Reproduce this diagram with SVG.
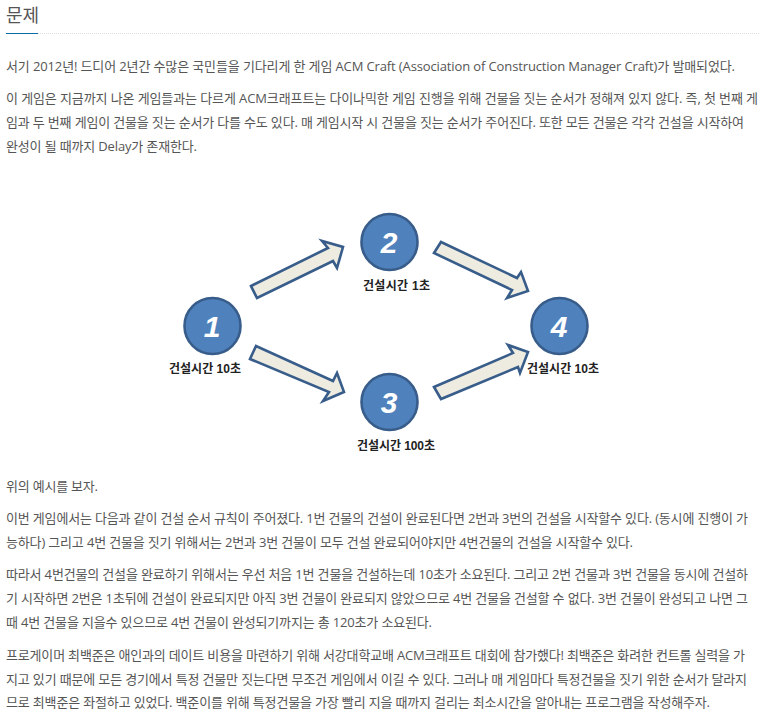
<svg xmlns="http://www.w3.org/2000/svg" width="760" height="718" viewBox="0 0 760 718">
<style>
text{font-family:"Open Sans","Noto Sans CJK KR",sans-serif}
.t{font-size:13px;fill:#555}
.h{font-size:18px;fill:#555}
.l{font-size:12px;font-weight:700;fill:#222;font-family:"Liberation Sans","Noto Sans CJK KR",sans-serif}
.c{fill:#4f81bd;stroke:#385d8a;stroke-width:2.6}
.a{fill:#eeece1;stroke:#385d8a;stroke-width:2.6}
.n{font-size:30px;font-weight:700;fill:#fff;font-style:italic;font-family:"Liberation Sans",sans-serif;text-anchor:middle}
</style>
<rect width="760" height="718" fill="#fff"/>
<text class="h" x="6" y="22">문제</text>
<line x1="38" y1="33.5" x2="760" y2="33.5" stroke="#ddd" stroke-dasharray="1 1"/>
<rect x="6" y="33" width="32" height="1" fill="#0d6ca8"/>
<g id="text1">
<text class="t" x="6" y="71" textLength="729">서기 2012년! 드디어 2년간 수많은 국민들을 기다리게 한 게임 ACM Craft (Association of Construction Manager Craft)가 발매되었다.</text>
<text class="t" x="6" y="103" textLength="752">이 게임은 지금까지 나온 게임들과는 다르게 ACM크래프트는 다이나믹한 게임 진행을 위해 건물을 짓는 순서가 정해져 있지 않다. 즉, 첫 번째 게</text>
<text class="t" x="6" y="127" textLength="738">임과 두 번째 게임이 건물을 짓는 순서가 다를 수도 있다. 매 게임시작 시 건물을 짓는 순서가 주어진다. 또한 모든 건물은 각각 건설을 시작하여</text>
<text class="t" x="6" y="151" textLength="191">완성이 될 때까지 Delay가 존재한다.</text>
</g>
<g id="connectors">
<path id="e12" class="a" d="M251 286L328 248L322 241L343 247L337 268L333 261L257 298Z"/>
<path id="e13" class="a" d="M250 359L256 346L333 381L337 373L344 392L323 401L329 392Z"/>
<path id="e24" class="a" d="M434 253L441 242L517 278L521 272L528 291L507 298L512 290Z"/>
<path id="e34" class="a" d="M434 387L513 353L508 345L528 352L520 373L518 367L441 399Z"/>
</g>
<g id="node1"><circle class="c" cx="212.5" cy="326" r="28"/><text class="n" x="212" y="337">1</text><text class="l" x="169" y="373" textLength="72">건설시간 10초</text></g>
<g id="node2"><circle class="c" cx="389.5" cy="242" r="28"/><text class="n" x="389" y="253">2</text><text class="l" x="363" y="290" textLength="67">건설시간 1초</text></g>
<g id="node3"><circle class="c" cx="389.5" cy="402" r="28"/><text class="n" x="389" y="413">3</text><text class="l" x="357" y="450" textLength="78">건설시간 100초</text></g>
<g id="node4"><circle class="c" cx="559.5" cy="326" r="28"/><text class="n" x="559" y="337">4</text><text class="l" x="527" y="373" textLength="72">건설시간 10초</text></g>
<g id="text2">
<text class="t" x="6" y="491" textLength="92">위의 예시를 보자.</text>
<text class="t" x="6" y="523" textLength="742">이번 게임에서는 다음과 같이 건설 순서 규칙이 주어졌다. 1번 건물의 건설이 완료된다면 2번과 3번의 건설을 시작할수 있다. (동시에 진행이 가</text>
<text class="t" x="6" y="547" textLength="627">능하다) 그리고 4번 건물을 짓기 위해서는 2번과 3번 건물이 모두 건설 완료되어야지만 4번건물의 건설을 시작할수 있다.</text>
<text class="t" x="6" y="579" textLength="742">따라서 4번건물의 건설을 완료하기 위해서는 우선 처음 1번 건물을 건설하는데 10초가 소요된다. 그리고 2번 건물과 3번 건물을 동시에 건설하</text>
<text class="t" x="6" y="603" textLength="742">기 시작하면 2번은 1초뒤에 건설이 완료되지만 아직 3번 건물이 완료되지 않았으므로 4번 건물을 건설할 수 없다. 3번 건물이 완성되고 나면 그</text>
<text class="t" x="6" y="627" textLength="426">때 4번 건물을 지을수 있으므로 4번 건물이 완성되기까지는 총 120초가 소요된다.</text>
<text class="t" x="6" y="660" textLength="739">프로게이머 최백준은 애인과의 데이트 비용을 마련하기 위해 서강대학교배 ACM크래프트 대회에 참가했다! 최백준은 화려한 컨트롤 실력을 가</text>
<text class="t" x="6" y="684" textLength="741">지고 있기 때문에 모든 경기에서 특정 건물만 짓는다면 무조건 게임에서 이길 수 있다. 그러나 매 게임마다 특정건물을 짓기 위한 순서가 달라지</text>
<text class="t" x="6" y="707" textLength="704">므로 최백준은 좌절하고 있었다. 백준이를 위해 특정건물을 가장 빨리 지을 때까지 걸리는 최소시간을 알아내는 프로그램을 작성해주자.</text>
</g>
</svg>
